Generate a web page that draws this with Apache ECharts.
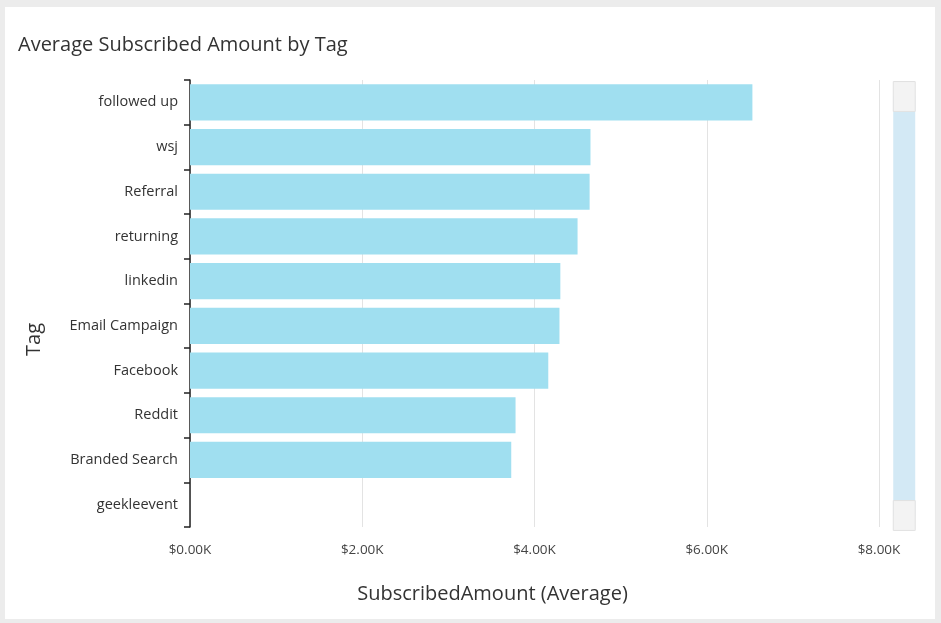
<!DOCTYPE html>
<html><head><meta charset="utf-8">
<script src="https://cdn.jsdelivr.net/npm/echarts@6/dist/echarts.min.js"></script>
<style>
html,body{margin:0;padding:0;background:#ececec;width:941px;height:623px;overflow:hidden}
#card{position:absolute;left:5px;top:7px;width:930px;height:612px;background:#fff}
#c{width:930px;height:612px}
</style></head>
<body><div id="card"><div id="c"></div></div>
<script>
const tags = ['followed up','wsj','Referral','returning','linkedin','Email Campaign','Facebook','Reddit','Branded Search','geekleevent'];
const avgAmount = [6530, 4650, 4640, 4500, 4300, 4290, 4160, 3780, 3730, 0];
const xTicks = [0, 2000, 4000, 6000, 8000];

const FONT = '"Open Sans", "Noto Sans", sans-serif';
const chart = echarts.init(document.getElementById('c'), null, {renderer:'canvas'});
chart.setOption({
  animation:false,
  textStyle:{fontFamily:FONT},
  title:{text:'Average Subscribed Amount by Tag', left:8, top:23,
    textStyle:{fontFamily:FONT, fontSize:20, fontWeight:'normal', color:'#333'}},
  grid:{left:185, right:56, top:73, bottom:92},
  xAxis:{type:'value', min:xTicks[0], max:xTicks[xTicks.length-1], interval:2000,
    name:'SubscribedAmount (Average)', nameLocation:'middle', nameGap:57,
    nameTextStyle:{fontFamily:FONT, fontSize:20, color:'#333', padding:[0,84,0,0]},
    axisLine:{show:false}, axisTick:{show:false},
    axisLabel:{margin:16, fontSize:13.5, color:'#444', fontFamily:FONT,
      formatter:v=>'$'+(v/1000).toFixed(2)+'K'},
    splitLine:{lineStyle:{color:'#e3e3e3', width:1}}},
  yAxis:{type:'category', data:tags, inverse:true,
    name:'Tag', nameLocation:'middle', nameGap:146, nameRotate:90,
    nameTextStyle:{fontFamily:FONT, fontSize:20, color:'#333', padding:[0,72,0,0]},
    axisLine:{lineStyle:{color:'#222', width:1.5}},
    axisTick:{show:true, length:6, lineStyle:{color:'#222', width:1.5}},
    axisLabel:{margin:12, fontSize:14.5, color:'#333', fontFamily:FONT}},
  dataZoom:[{type:'slider', yAxisIndex:0, orient:'vertical', filterMode:'none',
    start:0, end:100, zoomLock:true, left:888, width:22, top:87, bottom:104,
    showDetail:false, showDataShadow:false, brushSelect:false,
    backgroundColor:'rgba(0,0,0,0)', borderColor:'rgba(0,0,0,0)',
    fillerColor:'#d3e9f5',
    handleIcon:'path://M0,0H30V22H0Z', handleSize:'136%',
    handleStyle:{color:'#f3f3f3', borderColor:'#e2e2e2', borderWidth:1},
    moveHandleSize:0, moveHandleStyle:{opacity:0},
    emphasis:{handleStyle:{color:'#f3f3f3', borderColor:'#e2e2e2'}}
  }],
  series:[{type:'bar', data:avgAmount, barCategoryGap:'19%',
    itemStyle:{color:'#a0dff0'}}]
});
</script></body></html>
